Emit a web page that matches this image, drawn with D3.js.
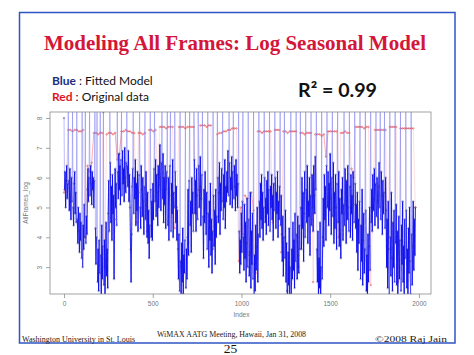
<!DOCTYPE html>
<html>
<head>
<meta charset="utf-8">
<script src="https://cdn.jsdelivr.net/npm/d3@7"></script>
<style>
  html, body { margin: 0; padding: 0; background: #fff; }
  svg { display: block; }
</style>
</head>
<body>
<script>
// ---- Data ----
// Fitted model (blue), one value every 3 index steps (index 0..1980)
const fittedStep = 3;
const fitted = [
  8.0, 5.6, 6.2, 5.0, 5.9, 6.4, 5.3, 5.8,
  8.4, 5.9, 4.9, 6.3, 5.4, 4.6, 6.0, 5.2,
  8.3, 5.0, 4.4, 5.8, 6.2, 4.8, 5.5, 4.5,
  8.4, 4.6, 3.8, 5.0, 4.2, 3.5, 4.8, 3.9, 4.5, 3.3,
  8.3, 3.0, 4.4, 3.6, 5.1, 4.0,
  8.5, 3.8, 4.7, 4.1, 5.6, 6.3, 5.2, 6.0,
  8.3, 5.4, 6.4, 5.8, 5.1, 6.2, 5.6, 6.0, 5.0, 5.9,
  8.4, 4.3, 3.1, 4.0,
  8.3, 2.5, 3.6, 2.2, 3.9, 2.8,
  8.4, 3.4, 2.0, 4.4, 2.6, 3.7,
  8.2, 2.4, 3.9, 2.0, 3.2, 4.5, 2.7, 3.6, 2.3, 4.8, 5.9, 4.2,
  8.4, 6.5, 4.5, 5.7, 3.9, 6.1, 4.8, 5.4, 2.6, 4.6, 6.3, 5.0, 5.8, 4.4,
  8.4, 6.2, 5.3, 6.8, 5.6, 6.4, 5.1, 6.6,
  8.3, 5.4, 6.9, 5.8, 6.3, 5.2, 7.0, 6.0, 5.5, 6.5,
  8.4, 6.4, 5.7, 6.9, 5.2, 6.1, 5.0, 3.6, 2.5, 4.1, 5.7, 6.3,
  8.4, 4.8, 6.0, 5.3, 6.6, 4.4, 5.8, 4.9, 6.2, 4.2, 5.5, 6.1,
  8.3, 5.0, 4.3, 6.4, 5.6, 4.7, 6.0, 5.2, 4.1, 5.7,
  8.4, 4.6, 6.2, 5.1, 4.0, 5.5, 3.8, 4.9, 3.3, 4.4,
  8.4, 5.6, 4.0, 5.2, 3.9, 5.8, 4.6, 6.3,
  8.3, 5.2, 6.6, 4.7, 6.1, 5.5, 4.4, 6.4, 5.0, 5.8, 7.1, 6.0, 4.9, 6.5,
  8.4, 5.3, 6.8, 4.5, 6.0, 5.1, 6.4, 4.3, 5.6, 6.2,
  8.3, 4.4, 6.0, 3.9, 5.4, 6.4,
  8.4, 4.2, 5.8, 4.8, 6.6, 4.0, 5.5, 5.0,
  8.3, 6.2, 4.5, 5.7, 3.9, 4.9, 3.6, 2.6, 4.1, 2.2,
  8.4, 3.2, 2.0, 3.8, 2.5, 4.3, 2.1, 3.4, 2.8, 3.9,
  8.3, 2.3, 3.6, 2.6, 4.0, 5.6, 3.4, 5.9,
  8.4, 4.4, 5.2, 3.5, 6.0, 4.8, 5.5, 4.2,
  8.4, 6.6, 4.8, 5.9, 4.2, 6.3, 5.4, 4.6,
  8.3, 6.4, 5.0, 5.7, 6.7, 4.4, 5.3, 6.1,
  8.4, 4.7, 3.3, 5.6, 4.5, 6.2, 5.0, 4.1, 5.5, 3.6,
  8.3, 4.8, 3.0, 5.2, 3.9, 5.8, 3.4, 4.6, 2.8, 4.2,
  8.4, 5.4, 3.7, 4.9, 3.1, 5.6, 4.0, 4.7,
  8.3, 6.0, 4.5, 5.5, 6.5, 4.1, 5.8, 4.9, 6.3, 5.2,
  8.4, 4.6, 6.1, 5.0, 6.6, 4.3, 5.7, 5.2, 6.2, 5.5, 6.9, 5.4,
  8.3, 6.5, 5.1, 6.0, 5.6, 6.7, 5.0, 6.2,
  8.4, 5.3, 6.4, 5.7, 4.9, 6.6, 5.4, 6.1, 5.0, 5.8,
  8.3, 4.2, 2.8, 3.9, 3.1, 4.8, 3.5, 5.2,
  8.4, 4.0, 2.9, 5.1, 3.3, 4.5, 2.5, 3.8, 5.3, 3.0,
  8.3, 4.6, 2.7, 3.5, 5.5, 2.3, 4.2, 3.1, 4.8, 2.6,
  8.4, 2.0, 3.4, 2.2, 4.4, 2.9, 3.7, 5.0, 2.5, 4.1,
  8.3, 5.2, 4.0, 5.8, 4.6, 6.1, 4.3, 5.5, 3.9, 5.0,
  8.4, 6.0, 4.5, 5.3, 4.1, 5.9, 4.8, 6.2, 4.4, 5.6,
  8.3, 4.2, 5.7, 5.0, 6.1, 4.6, 5.4, 3.9, 5.8, 4.9,
  8.4, 6.0, 4.3, 5.5, 4.8, 6.2, 4.0, 5.2, 4.6, 5.7,
  8.3, 4.4, 5.4, 4.1, 3.2, 4.7, 2.7, 4.0,
  8.4, 3.3, 4.9, 2.5, 3.8, 2.2, 2.0, 3.5, 2.4, 4.3, 2.1, 3.0,
  8.3, 2.0, 3.6, 2.6, 4.5, 2.9, 3.9, 2.3, 4.8, 3.2,
  8.4, 4.1, 2.6, 4.7, 3.4, 2.8, 4.4, 3.6,
  8.3, 5.0, 3.6, 6.0, 4.3, 5.5, 3.2, 4.8, 6.2, 4.0,
  8.4, 5.6, 4.5, 6.4, 3.8, 5.2, 4.7, 6.0, 3.4, 5.4,
  8.3, 4.4, 6.1, 5.0, 4.2, 6.4, 5.4, 4.8, 6.7, 5.6,
  8.4, 3.6, 2.5, 4.2, 2.0, 3.3, 2.3, 4.5, 2.1, 3.0,
  8.3, 2.6, 4.0, 5.3, 3.7, 6.1, 4.6, 5.7, 3.9, 6.4,
  8.4, 5.0, 6.2, 4.4, 5.8, 4.9, 6.8, 5.3, 4.1, 6.0,
  8.3, 4.7, 6.5, 3.8, 5.5, 4.3, 6.1, 5.0, 3.6, 5.8,
  8.4, 4.5, 6.2, 3.7, 5.3, 4.1, 3.3, 5.6, 4.8, 6.0, 3.9, 5.1,
  8.3, 4.4, 6.3, 5.2, 3.8, 5.9, 4.6, 6.4, 5.0, 4.2,
  8.4, 5.7, 4.0, 6.1, 4.8, 5.4, 3.9, 6.2, 5.1, 4.5,
  8.3, 5.8, 4.3, 5.1, 3.5, 5.5, 2.9, 4.6, 3.8, 5.2,
  8.4, 2.6, 4.4, 3.2, 5.6, 2.4, 3.9, 4.8, 2.8, 3.6,
  8.3, 4.9, 2.2, 3.4, 2.0, 4.1, 2.5, 3.7, 5.0, 2.9,
  8.4, 4.5, 5.6, 4.2, 6.1, 4.9, 5.3, 6.3, 4.4, 5.8,
  8.3, 4.7, 6.0, 5.2, 4.3, 5.7, 6.5, 5.0,
  8.4, 4.6, 6.2, 5.4, 4.1, 5.9, 4.8, 5.5,
  8.3, 4.3, 6.0, 4.9, 3.0, 4.6, 2.3, 5.2, 3.6, 2.1,
  8.4, 4.0, 2.7, 5.5, 3.3, 2.2, 4.5, 3.0, 4.9, 2.5,
  8.3, 3.8, 5.1, 2.4, 4.2, 2.0, 3.5, 4.7, 2.6, 3.9,
  8.4, 2.2, 4.4, 3.1, 5.2, 2.5, 3.7, 2.0, 4.6, 3.3,
  8.3, 4.9, 2.3, 3.6, 2.0, 4.3, 2.8, 5.0, 3.2, 2.1,
  8.4, 4.1, 2.4, 3.7, 5.2, 2.9, 4.6, 3.4, 5.0
];

// Original data (red), one value every 12 index steps (index 0..1980)
const originalStep = 12;
const original = [
  5.5, 5.9, 7.6, 7.6, 7.55, 7.6, 7.6, 7.55, 7.55, 7.6,
  4.0, 6.4, 6.2, 6.5, 7.5, 7.5, 7.45, 7.5, 7.5, 3.0,
  7.45, 7.5, 7.5, 7.45, 7.5, 6.6, 6.8, 7.55, 7.55, 7.6,
  7.55, 7.55, 7.5, 7.5, 4.5, 7.5, 7.5, 7.45, 7.5, 4.2,
  7.6, 7.6, 7.55, 7.6, 6.1, 7.7, 7.7, 7.7, 7.65, 7.7,
  7.7, 7.7, 4.3, 5.0, 7.7, 7.7, 7.7, 7.65, 7.7, 7.7,
  7.7, 7.7, 4.8, 5.6, 7.75, 7.75, 7.75, 7.7, 7.75, 7.75,
  3.6, 4.4, 7.45, 7.5, 7.5, 7.55, 7.55, 7.6, 7.6, 7.65,
  7.65, 7.65, 3.2, 5.0, 4.1, 5.4, 5.3, 3.4, 5.5, 4.9,
  2.8, 7.55, 7.55, 7.5, 7.55, 7.55, 7.55, 7.55, 4.5, 7.6,
  7.6, 7.6, 3.5, 7.55, 7.55, 7.5, 7.55, 7.55, 7.55, 7.55,
  3.0, 7.5, 7.5, 7.45, 7.5, 7.5, 7.5, 2.5, 7.45, 7.45,
  7.45, 7.4, 7.45, 6.7, 7.55, 7.55, 7.55, 7.55, 7.55, 4.0,
  7.5, 7.5, 7.55, 7.5, 7.5, 6.3, 6.0, 7.7, 7.7, 7.7,
  7.7, 7.65, 7.7, 7.7, 2.4, 5.0, 7.6, 7.6, 7.6, 7.6,
  7.6, 7.6, 3.0, 7.7, 7.7, 7.7, 7.7, 2.5, 7.65, 7.65,
  7.65, 7.65, 7.65, 7.65, 7.65, 5.0
];

const xTicks = [0, 500, 1000, 1500, 2000];
const yTicks = [3, 4, 5, 6, 7, 8];

const titleText = "Modeling All Frames: Log Seasonal Model";
const rSquaredText = "R\u00B2 = 0.99";
const footerLeft = "Washington University in St. Louis";
const footerMid = "WiMAX AATG Meeting, Hawaii, Jan 31, 2008";
const footerRight = "\u00A92008 Raj Jain";
const pageNumber = "25";

// ---- Drawing ----
const W = 474, H = 355;
const plot = { left: 50, right: 431, top: 112, bottom: 294 };

const svg = d3.select("body").append("svg")
  .attr("width", W).attr("height", H)
  .style("background", "#fff");

// slide border
svg.append("rect")
  .attr("x", 19.5).attr("y", 12.5)
  .attr("width", 435.5).attr("height", 330.5)
  .attr("fill", "none").attr("stroke", "#2f55c4").attr("stroke-width", 1.5);

// title
svg.append("text")
  .attr("x", 235).attr("y", 50)
  .attr("text-anchor", "middle")
  .attr("font-family", "'Liberation Serif', 'Times New Roman', serif")
  .attr("font-weight", "bold")
  .attr("font-size", 21)
  .attr("fill", "#d4163a")
  .text(titleText);

// legend text
const legFont = "Lato, 'Open Sans', sans-serif";
const l1 = svg.append("text").attr("x", 52).attr("y", 85)
  .attr("font-family", legFont).attr("font-size", 12).attr("fill", "#111");
l1.append("tspan").attr("font-weight", "bold").attr("fill", "#1a2f80").text("Blue");
l1.append("tspan").text(" : Fitted Model");
const l2 = svg.append("text").attr("x", 52).attr("y", 100.5)
  .attr("font-family", legFont).attr("font-size", 12).attr("fill", "#111");
l2.append("tspan").attr("font-weight", "bold").attr("fill", "#e0141e").text("Red");
l2.append("tspan").text("  :  Original data");

svg.append("text")
  .attr("x", 298).attr("y", 97)
  .attr("font-family", legFont).attr("font-size", 19).attr("font-weight", "bold")
  .attr("fill", "#111")
  .attr("textLength", 79).attr("lengthAdjust", "spacingAndGlyphs")
  .text(rSquaredText);

// scales
const x = d3.scaleLinear().domain([-79, 2068]).range([plot.left, plot.right]);
const y = d3.scaleLinear().domain([2.1, 8.2]).range([plot.bottom, plot.top]);

svg.append("defs").append("clipPath").attr("id", "plotclip")
  .append("rect")
  .attr("x", plot.left).attr("y", plot.top)
  .attr("width", plot.right - plot.left).attr("height", plot.bottom - plot.top);

const fittedPts = fitted.map((v, k) => ({ i: k * fittedStep, v }));
const origPts = original.map((v, k) => ({ i: k * originalStep, v }));

const g = svg.append("g").attr("clip-path", "url(#plotclip)");

// original data (red) underneath
const isJump = d => Math.abs(d[0].v - d[1].v) > 1.2;
g.append("g").selectAll("line").data(d3.pairs(origPts)).join("line")
  .attr("x1", d => x(d[0].i)).attr("y1", d => y(d[0].v))
  .attr("x2", d => x(d[1].i)).attr("y2", d => y(d[1].v))
  .attr("stroke", "#ff4040")
  .attr("stroke-opacity", d => isJump(d) ? 0.2 : 0.55)
  .attr("stroke-width", 0.8);
g.append("g").selectAll("circle").data(origPts).join("circle")
  .attr("cx", d => x(d.i)).attr("cy", d => y(d.v)).attr("r", 0.8)
  .attr("fill", "none").attr("stroke", "#e03030").attr("stroke-width", 0.6).attr("stroke-opacity", 0.75);

// fitted model (blue) on top
const isSpike = d => Math.max(d[0].v, d[1].v) > 7.8;
g.append("g").selectAll("line").data(d3.pairs(fittedPts)).join("line")
  .attr("x1", d => x(d[0].i)).attr("y1", d => y(d[0].v))
  .attr("x2", d => x(d[1].i)).attr("y2", d => y(d[1].v))
  .attr("stroke", d => isSpike(d) ? "#7878f0" : "#0a0af0")
  .attr("stroke-opacity", d => isSpike(d) ? 0.7 : 0.85)
  .attr("stroke-width", d => isSpike(d) ? 0.7 : 1.1);
g.append("g").selectAll("circle").data(fittedPts).join("circle")
  .attr("cx", d => x(d.i)).attr("cy", d => y(d.v)).attr("r", 0.8)
  .attr("fill", "none").attr("stroke", "#20208a").attr("stroke-width", 0.5).attr("stroke-opacity", 0.8);

// frame
svg.append("rect")
  .attr("x", plot.left).attr("y", plot.top)
  .attr("width", plot.right - plot.left).attr("height", plot.bottom - plot.top)
  .attr("fill", "none").attr("stroke", "#8c8c8c").attr("stroke-width", 0.8);

const axisFont = "'Liberation Sans', Arial, sans-serif";
// x axis
const gx = svg.append("g").attr("transform", `translate(0,${plot.bottom})`)
  .call(d3.axisBottom(x).tickValues(xTicks).tickSize(4).tickPadding(3).tickFormat(d3.format("d")));
gx.select(".domain").remove();
gx.selectAll("line").attr("stroke", "#8c8c8c").attr("stroke-width", 0.8);
gx.selectAll("text").attr("font-family", axisFont).attr("font-size", 6.5).attr("fill", "#777");

// y axis
const gy = svg.append("g").attr("transform", `translate(${plot.left},0)`)
  .call(d3.axisLeft(y).tickValues(yTicks).tickSize(4).tickFormat(d3.format("d")));
gy.select(".domain").remove();
gy.selectAll("line").attr("stroke", "#8c8c8c").attr("stroke-width", 0.8);
gy.selectAll("text")
  .attr("transform", "rotate(-90)")
  .attr("x", 0).attr("y", -8).attr("dy", 0)
  .attr("text-anchor", "middle")
  .attr("font-family", axisFont).attr("font-size", 6.5).attr("fill", "#777");

// axis titles
svg.append("text")
  .attr("x", (x(0) + x(2000)) / 2).attr("y", 317)
  .attr("text-anchor", "middle")
  .attr("font-family", axisFont).attr("font-size", 6.5).attr("fill", "#777")
  .text("Index");
svg.append("text")
  .attr("transform", `translate(27.5,${(plot.top + plot.bottom) / 2}) rotate(-90)`)
  .attr("text-anchor", "middle")
  .attr("font-family", axisFont).attr("font-size", 6.5).attr("fill", "#777")
  .text("AllFrames_log");

// footer
const serif = "'Liberation Serif', 'Times New Roman', serif";
svg.append("text").attr("x", 22).attr("y", 341.5)
  .attr("font-family", serif).attr("font-size", 8.5).attr("fill", "#222")
  .attr("textLength", 113).attr("lengthAdjust", "spacingAndGlyphs")
  .text(footerLeft);
svg.append("text").attr("x", 157).attr("y", 336.5)
  .attr("font-family", serif).attr("font-size", 8.5).attr("fill", "#222")
  .attr("textLength", 149).attr("lengthAdjust", "spacingAndGlyphs")
  .text(footerMid);
svg.append("text").attr("x", 375).attr("y", 341.5)
  .attr("font-family", serif).attr("font-size", 8.5).attr("fill", "#222")
  .attr("textLength", 72).attr("lengthAdjust", "spacingAndGlyphs")
  .text(footerRight);
svg.append("text").attr("x", 230.5).attr("y", 352.5)
  .attr("text-anchor", "middle")
  .attr("font-family", serif).attr("font-size", 13.5).attr("fill", "#111")
  .text(pageNumber);
</script>
</body>
</html>
